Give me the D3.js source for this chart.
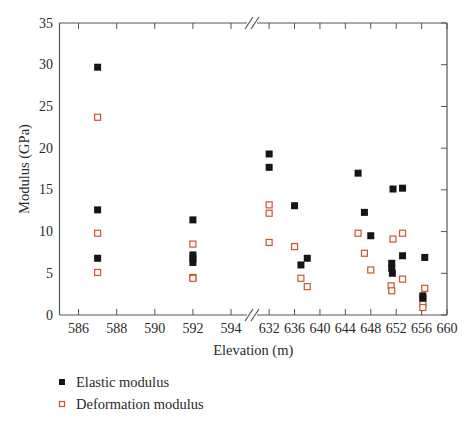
<!DOCTYPE html>
<html>
<head>
<meta charset="utf-8">
<script src="https://cdn.jsdelivr.net/npm/d3@7"></script>
<style>
  body { margin: 0; background: #fff; }
  svg text { font-family: "Liberation Serif", "DejaVu Serif", serif; fill: #2a2a2a; }
</style>
</head>
<body>
<div id="chart"></div>
<script>
// elevations (m) and moduli (GPa)
const elasticElev = [587, 587, 587, 592, 592, 592, 592, 632, 632, 636, 637, 638, 646, 647, 648, 651.5, 651.3, 651.3, 651.4, 653, 653, 656.2, 656.2, 656.5];
const elasticVal  = [29.7, 12.6, 6.8, 11.4, 7.2, 6.8, 6.3, 19.3, 17.7, 13.1, 6.0, 6.8, 17.0, 12.3, 9.5, 15.1, 6.2, 5.6, 5.0, 15.2, 7.1, 2.3, 2.0, 6.9];
const deformElev  = [587, 587, 587, 592, 592, 592, 632, 632, 632, 636, 637, 638, 646, 647, 648, 651.5, 651.2, 651.3, 653, 653, 656.2, 656.2, 656.5];
const deformVal   = [23.7, 9.8, 5.1, 8.5, 4.5, 4.4, 13.2, 12.2, 8.7, 8.2, 4.4, 3.4, 9.8, 7.4, 5.4, 9.1, 3.5, 2.9, 9.8, 4.3, 1.4, 0.9, 3.2];

const ticksLeft  = [586, 588, 590, 592, 594];
const ticksRight = [632, 636, 640, 644, 648, 652, 656, 660];
const yTicks = [0, 5, 10, 15, 20, 25, 30, 35];
const seriesNames = ["Elastic modulus", "Deformation modulus"];

const width = 474, height = 425;
const pLeft = 59.5, pRight = 447, pTop = 23, pBottom = 315, breakX = 252;

const svg = d3.select("#chart").append("svg")
    .attr("width", width)
    .attr("height", height);

// broken x axis: two linear pieces
const xL = d3.scaleLinear().domain([585, 595.1]).range([pLeft, breakX]);
const xR = d3.scaleLinear().domain([629.3, 660]).range([breakX, pRight]);
const x = v => v < 610 ? xL(v) : xR(v);

const y = d3.scaleLinear().domain([0, 35]).range([pBottom, pTop]);

const axisColor = "#555";

// frame with gaps at the break
const frame = svg.append("g").attr("stroke", axisColor).attr("stroke-width", 1.2).attr("fill", "none");
[pTop, pBottom].forEach(yy => {
  frame.append("line").attr("x1", pLeft).attr("x2", breakX - 5).attr("y1", yy).attr("y2", yy);
  frame.append("line").attr("x1", breakX + 5).attr("x2", pRight).attr("y1", yy).attr("y2", yy);
  // the // marks
  [-3, 3].forEach(dx => {
    frame.append("line")
      .attr("x1", breakX + dx - 4).attr("y1", yy + 6)
      .attr("x2", breakX + dx + 4).attr("y2", yy - 6);
  });
});
frame.append("line").attr("x1", pLeft).attr("x2", pLeft).attr("y1", pTop).attr("y2", pBottom);
frame.append("line").attr("x1", pRight).attr("x2", pRight).attr("y1", pTop).attr("y2", pBottom);

// x ticks (inward, bottom and top)
const allTicks = ticksLeft.concat(ticksRight);
const tk = svg.append("g").attr("stroke", axisColor).attr("stroke-width", 1);
allTicks.forEach(t => {
  tk.append("line").attr("x1", x(t)).attr("x2", x(t)).attr("y1", pBottom).attr("y2", pBottom - 6);
  tk.append("line").attr("x1", x(t)).attr("x2", x(t)).attr("y1", pTop).attr("y2", pTop + 6);
});
yTicks.forEach(t => {
  tk.append("line").attr("x1", pRight).attr("x2", pRight - 6).attr("y1", y(t)).attr("y2", y(t));
});

svg.append("g").selectAll("text")
  .data(allTicks)
  .join("text")
    .attr("x", d => x(d))
    .attr("y", pBottom + 18)
    .attr("text-anchor", "middle")
    .style("font-size", "14px")
    .text(d => d);

svg.append("g").selectAll("text")
  .data(yTicks)
  .join("text")
    .attr("x", 53)
    .attr("y", d => y(d) + 4.5)
    .attr("text-anchor", "end")
    .style("font-size", "14px")
    .text(d => d);

svg.append("text")
  .attr("x", (pLeft + pRight) / 2)
  .attr("y", pBottom + 40)
  .attr("text-anchor", "middle")
  .style("font-size", "14.5px")
  .text("Elevation (m)");

svg.append("text")
  .attr("transform", `translate(29,${(pTop + pBottom) / 2}) rotate(-90)`)
  .attr("text-anchor", "middle")
  .style("font-size", "14.5px")
  .text("Modulus (GPa)");

// points
const sq = 7;
const openColor = "#cc5533";

svg.append("g").selectAll("rect")
  .data(deformVal.map((v, i) => [deformElev[i], v]))
  .join("rect")
    .attr("x", d => x(d[0]) - sq / 2 + 0.5)
    .attr("y", d => y(d[1]) - sq / 2 + 0.5)
    .attr("width", sq - 1)
    .attr("height", sq - 1)
    .attr("fill", "#fff")
    .attr("stroke", openColor)
    .attr("stroke-width", 1.2);

svg.append("g").selectAll("rect")
  .data(elasticVal.map((v, i) => [elasticElev[i], v]))
  .join("rect")
    .attr("x", d => x(d[0]) - sq / 2)
    .attr("y", d => y(d[1]) - sq / 2)
    .attr("width", sq)
    .attr("height", sq)
    .attr("fill", "#151515");

// legend
const lg = svg.append("g");
seriesNames.forEach((name, i) => {
  const ly = 382 + i * 22;
  if (i === 0) {
    lg.append("rect").attr("x", 59).attr("y", ly - 3).attr("width", 6).attr("height", 6).attr("fill", "#151515");
  } else {
    lg.append("rect").attr("x", 59.5).attr("y", ly - 2.5).attr("width", 5).attr("height", 5)
      .attr("fill", "#fff").attr("stroke", openColor).attr("stroke-width", 1.2);
  }
  lg.append("text")
    .attr("x", 76)
    .attr("y", ly + 5)
    .style("font-size", "14.5px")
    .text(name);
});
</script>
</body>
</html>
